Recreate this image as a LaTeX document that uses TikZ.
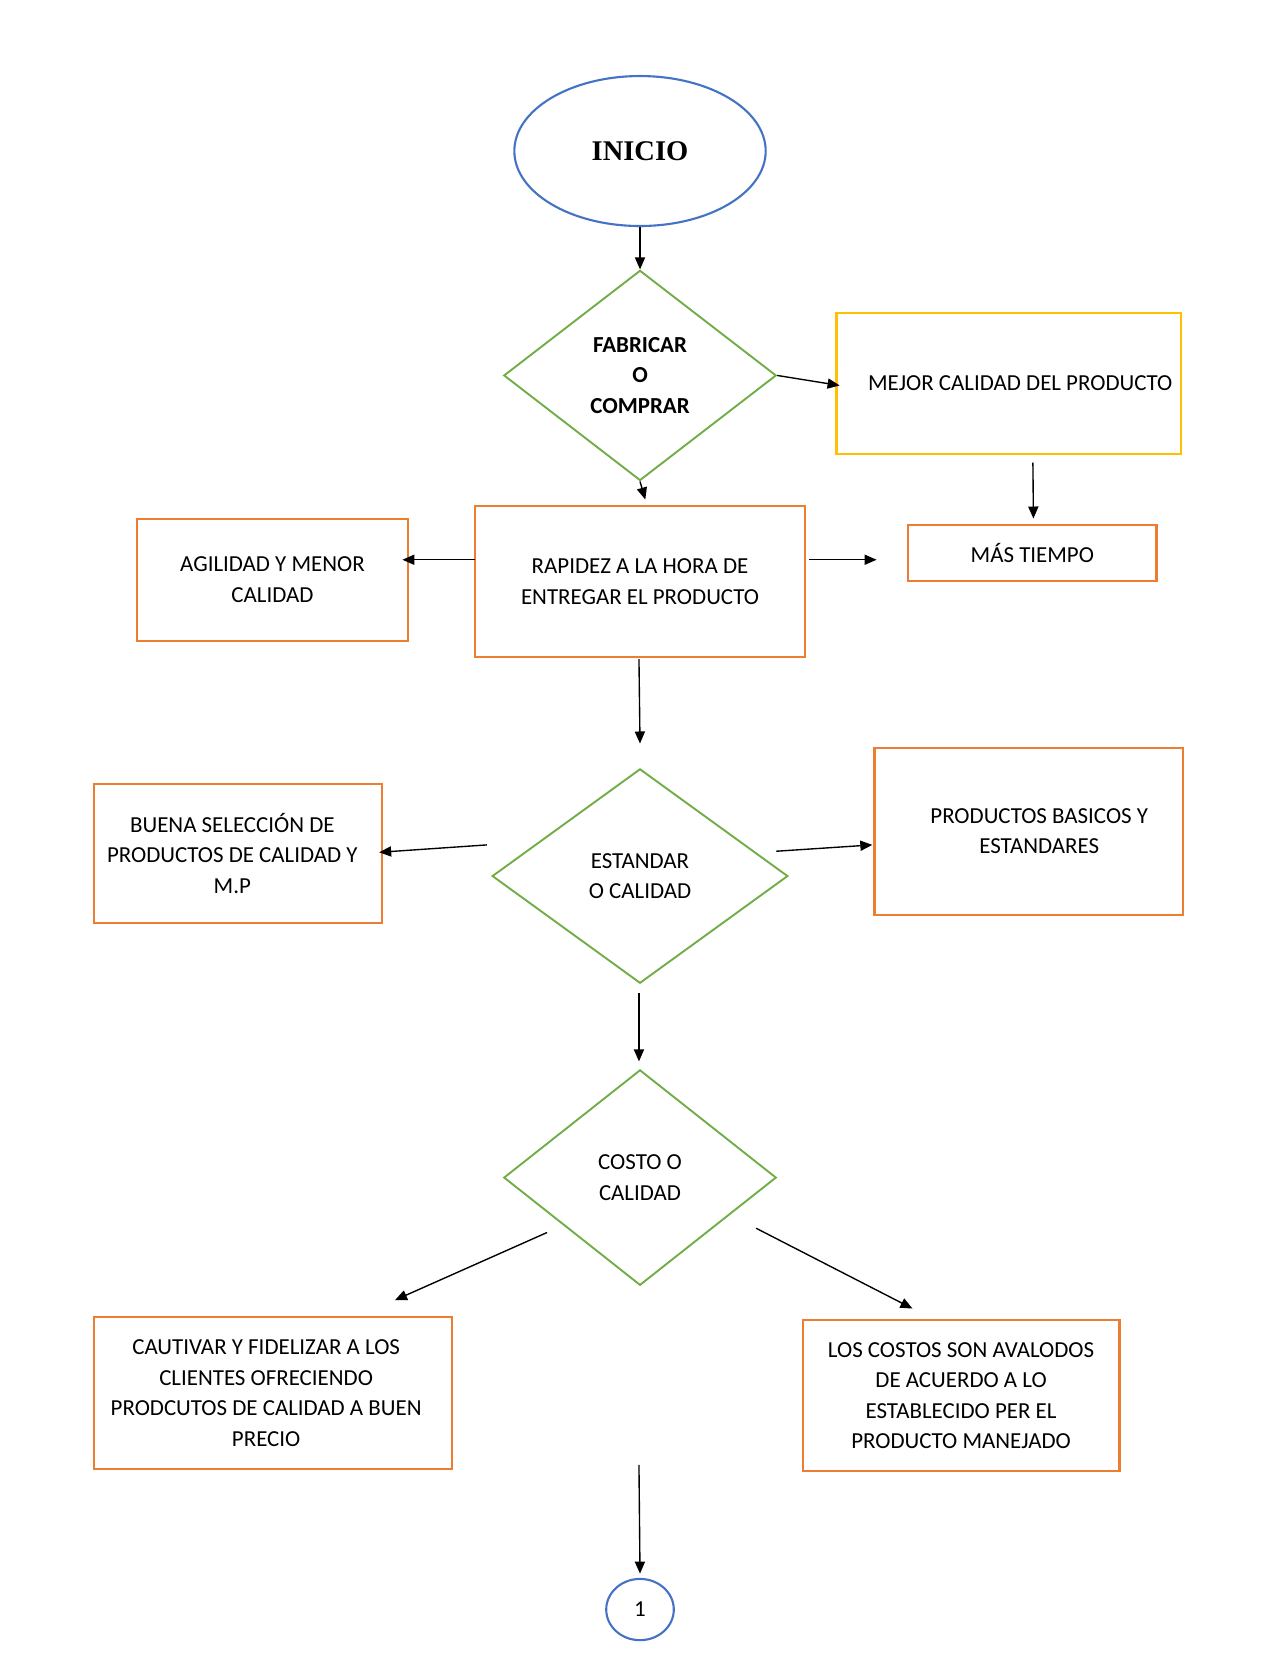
\documentclass[tikz,border=0pt]{standalone}
\usepackage{fontspec}
\setmainfont{Carlito}
\newfontfamily\inifont{Liberation Serif}
\usetikzlibrary{shapes.geometric,arrows.meta,calc}
\definecolor{cblue}{HTML}{4472C4}
\definecolor{cgreen}{HTML}{70AD47}
\definecolor{corange}{HTML}{ED7D31}
\definecolor{cyellow}{HTML}{FFC000}
\begin{document}
\begin{tikzpicture}[x=0.5pt,y=-0.5pt,
  every node/.style={font=\fontsize{10.85}{14.5}\selectfont,text=black},
  obox/.style={draw=corange,line width=1pt,rectangle,inner sep=0pt,align=center},
  ybox/.style={draw=cyellow,line width=1pt,rectangle,inner sep=0pt,align=center},
  dec/.style={draw=cgreen,line width=0.9pt,diamond,inner sep=0pt,align=center},
  term/.style={draw=cblue,line width=1pt,ellipse,inner sep=0pt,align=center},
  arr/.style={draw=black,line width=0.65pt,-{Triangle[length=5.7pt,width=4.8pt]}}]
\useasboundingbox (0,0) rectangle (1212,1568);

% nodes
\node[term,minimum width=119pt,minimum height=71pt,font=\inifont\bfseries\fontsize{13.5}{16}\selectfont] (inicio) at (606,143) {INICIO};
\node[dec,minimum width=129pt,minimum height=99.5pt] (d1) at (606,355.5) {\bfseries FABRICAR\\\bfseries O\\\bfseries COMPRAR};
\node[ybox,minimum width=163pt,minimum height=67pt] (mejor) at (955,363) {\hspace*{11pt}MEJOR CALIDAD DEL PRODUCTO};
\node[obox,minimum width=117.5pt,minimum height=26.5pt] (mas) at (977.5,523.5) {MÁS TIEMPO};
\node[obox,minimum width=156pt,minimum height=71.5pt] (rap) at (606,550.5) {RAPIDEZ A LA HORA DE\\ENTREGAR EL PRODUCTO};
\node[obox,minimum width=128pt,minimum height=58pt] (agil) at (258,549) {AGILIDAD Y MENOR\\CALIDAD};
\node[dec,minimum width=140pt,minimum height=101.5pt] (d2) at (606,829.5) {ESTANDAR\\O CALIDAD};
\node[obox,minimum width=136.5pt,minimum height=66pt,
  label={[align=center,xshift=-2.75pt]center:BUENA SELECCIÓN DE\\PRODUCTOS DE CALIDAD Y\\M.P}] (buena) at (225.5,808) {};
\node[obox,minimum width=146pt,minimum height=79pt,
  label={[align=center,xshift=5pt]center:PRODUCTOS BASICOS Y\\ESTANDARES}] (prod) at (974,787) {};
\node[dec,minimum width=129pt,minimum height=102pt] (d3) at (606,1115) {COSTO O\\CALIDAD};
\node[obox,minimum width=169.5pt,minimum height=72pt,
  label={[align=center,xshift=-3.25pt]center:CAUTIVAR Y FIDELIZAR A LOS\\CLIENTES OFRECIENDO\\PRODCUTOS DE CALIDAD A BUEN\\PRECIO}] (caut) at (258.5,1319) {};
\node[obox,minimum width=150pt,minimum height=71.5pt] (costos) at (910,1321.5) {LOS COSTOS SON AVALODOS\\DE ACUERDO A LO\\ESTABLECIDO PER EL\\PRODUCTO MANEJADO};
\node[term,minimum width=32pt,minimum height=29pt] (one) at (606,1524) {1};

% free ends of connectors
\coordinate (m3s) at (978,438);
\coordinate (m4e) at (611,473);
\coordinate (r5s) at (450,530);
\coordinate (r5e) at (381,530);
\coordinate (r6s) at (766,530);
\coordinate (r6e) at (830,530);
\coordinate (r7s) at (605,624);
\coordinate (r7e) at (606,704);
\coordinate (d8s) at (461,800);
\coordinate (d8e) at (359,807);
\coordinate (d9s) at (735,806);
\coordinate (d9e) at (826,800);
\coordinate (d10s) at (605,940);
\coordinate (d10e) at (605,1005);
\coordinate (d11s) at (518,1167);
\coordinate (d11e) at (374,1231);
\coordinate (d12s) at (716,1163);
\coordinate (d12e) at (864,1239);
\coordinate (c13s) at (605,1387);
\coordinate (c13e) at (606,1490);

% connectors
\draw[arr] (inicio.south) -- (d1.north);
\draw[arr] (d1.east) -- ($(mejor.west)+(4,2)$);
\draw[arr] (m3s) -- ($(mas.north)+(1,-5)$);
\draw[arr] (d1.south) -- (m4e);
\draw[arr] (r5s) -- (r5e);
\draw[arr] (r6s) -- (r6e);
\draw[arr] (r7s) -- (r7e);
\draw[arr] (d8s) -- (d8e);
\draw[arr] (d9s) -- (d9e);
\draw[arr] (d10s) -- (d10e);
\draw[arr] (d11s) -- (d11e);
\draw[arr] (d12s) -- (d12e);
\draw[arr] (c13s) -- (c13e);
\end{tikzpicture}
\end{document}
